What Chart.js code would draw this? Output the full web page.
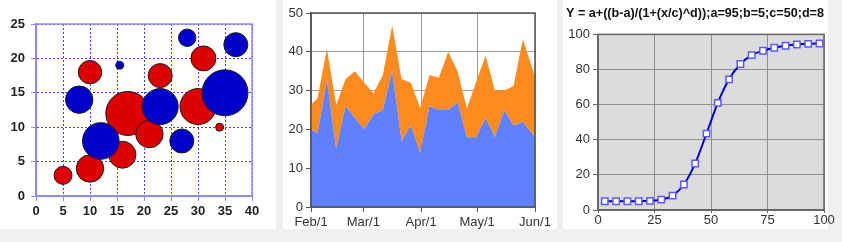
<!DOCTYPE html>
<html>
<head>
<meta charset="utf-8">
<script src="https://cdn.jsdelivr.net/npm/chart.js@4.4.1/dist/chart.umd.min.js"></script>
<style>
  html, body { margin: 0; padding: 0; background: #f0f0f0; }
  body { width: 842px; height: 242px; position: relative; overflow: hidden; }
  .panel { position: absolute; top: 0; height: 229px; background: #fff; }
  canvas { position: absolute; top: 0; }
</style>
</head>
<body>
<div class="panel" style="left:0;width:276px"></div>
<div class="panel" style="left:283px;width:274px"></div>
<div class="panel" style="left:563px;width:265px"></div>
<canvas id="bubble" width="276" height="229" style="left:0"></canvas>
<canvas id="area" width="274" height="229" style="left:283px"></canvas>
<canvas id="curve" width="279" height="229" style="left:563px"></canvas>
<script>
// --- bubble chart (x, y, bubble radius) ---
const redX = [5, 10, 10, 16, 17, 21, 23, 30, 31, 34];
const redY = [3, 4, 18, 6, 12, 9, 17.5, 13, 20, 10];
const redSize = [9, 13.7, 11.7, 13.5, 22, 13.7, 12, 18, 12.5, 4];
const blueX = [8, 12, 15.5, 23, 27, 28, 35, 37];
const blueY = [14, 8, 19, 13, 8, 23, 15, 22];
const blueSize = [13.7, 18.3, 4, 18, 12, 8.7, 23, 12];

// --- stacked area chart (days from Feb/1) ---
const areaDays = [0, 3.5, 8.5, 13.5, 18.5, 23.5, 28.5, 33.5, 38.5, 43.5, 48.5, 53.5, 58.5,
                  63.5, 68.5, 73.5, 78.5, 83.5, 88.5, 93.5, 98.5, 103.5, 108.5, 113.5, 120];
const areaBlue = [20, 19, 32.7, 15, 26, 23, 20, 24, 25, 35, 17, 21, 14,
                  26, 25, 25, 27, 18, 18, 23, 18, 25, 21, 22, 18];
const areaOrange = [6.3, 9, 8.1, 11.3, 7, 12, 12, 5.3, 9, 11.8, 16, 11, 11.5,
                    8, 8.3, 15, 8, 7.4, 14.3, 16, 12, 5, 10.2, 21.3, 15.6];
const areaTickDays = [0, 28, 59, 89, 120];
const areaTickLabels = ['Feb/1', 'Mar/1', 'Apr/1', 'May/1', 'Jun/1'];

// --- sigmoid curve ---
const curveTitle = 'Y = a+((b-a)/(1+(x/c)^d));a=95;b=5;c=50;d=8';
const curveX = [3, 8, 13, 18, 23, 28, 33, 38, 43, 48, 53, 58, 63, 68, 73, 78, 83, 88, 93, 98];
const curveY = [5, 5, 5, 5, 5.2, 5.9, 8.2, 14.5, 26.5, 43.5, 61, 74.4, 83.1, 88.2, 90.7, 92.4, 93.5, 94.2, 94.6, 94.8];

// plot background + frame around the chart area
const framePlugin = {
  id: 'frame',
  defaults: {},
  beforeDraw(chart, args, opts) {
    if (!opts.fill) return;
    const a = chart.chartArea;
    const ctx = chart.ctx;
    ctx.save();
    ctx.fillStyle = opts.fill;
    ctx.fillRect(a.left, a.top, a.right - a.left, a.bottom - a.top);
    ctx.restore();
  },
  afterDraw(chart, args, opts) {
    if (!opts.color) return;
    const a = chart.chartArea;
    const ctx = chart.ctx;
    ctx.save();
    ctx.strokeStyle = opts.color;
    ctx.lineWidth = opts.width || 1;
    ctx.strokeRect(a.left, a.top, a.right - a.left, a.bottom - a.top);
    ctx.restore();
  }
};
Chart.register(framePlugin);

const toPoints = (xs, ys, rs) => xs.map((x, i) => rs ? {x: x, y: ys[i], r: rs[i]} : {x: x, y: ys[i]});
const noAnim = {animation: false, responsive: false, events: []};

// bubble
new Chart(document.getElementById('bubble'), {
  type: 'bubble',
  data: {
    datasets: [
      {data: toPoints(blueX, blueY, blueSize), backgroundColor: '#0000cc', borderColor: '#1a1a1a', borderWidth: 1},
      {data: toPoints(redX, redY, redSize), backgroundColor: '#dd0000', borderColor: '#1a1a1a', borderWidth: 1}
    ]
  },
  options: {
    ...noAnim,
    layout: {padding: {top: 15, right: 11, left: 0, bottom: 0}},
    plugins: {legend: {display: false}, tooltip: {enabled: false}, frame: {color: '#8c8cff', width: 1.5}},
    scales: {
      x: {
        type: 'linear', min: 0, max: 40,
        ticks: {stepSize: 5, padding: 3, color: '#222', font: {family: 'Liberation Sans, Arial', size: 13, weight: 'bold'}},
        grid: {color: '#4040ff', tickColor: '#8c8cff', tickLength: 5, tickBorderDash: []},
        border: {color: '#8c8cff', width: 2, dash: [2, 2]},
        afterFit: (s) => { s.height = 33; }
      },
      y: {
        type: 'linear', min: 0, max: 25,
        ticks: {stepSize: 5, padding: 6, color: '#222', font: {family: 'Liberation Sans, Arial', size: 13, weight: 'bold'}},
        grid: {color: '#4040ff', tickColor: '#8c8cff', tickLength: 5, tickBorderDash: []},
        border: {color: '#8c8cff', width: 2, dash: [2, 2]},
        afterFit: (s) => { s.width = 36; }
      }
    }
  }
});

// stacked area
new Chart(document.getElementById('area'), {
  type: 'line',
  data: {
    datasets: [
      {data: toPoints(areaDays, areaBlue), backgroundColor: '#5f80ff', borderWidth: 0, pointRadius: 0, fill: 'origin'},
      {data: toPoints(areaDays, areaOrange), backgroundColor: '#ff8b1e', borderWidth: 0, pointRadius: 0, fill: '-1'}
    ]
  },
  options: {
    ...noAnim,
    layout: {padding: {top: 13, right: 22, left: 0, bottom: 0}},
    plugins: {legend: {display: false}, tooltip: {enabled: false}, frame: {color: '#555', width: 1.5}},
    scales: {
      x: {
        type: 'linear', min: 0, max: 120,
        afterBuildTicks: (s) => { s.ticks = areaTickDays.map(v => ({value: v})); },
        ticks: {
          padding: 3, color: '#333', maxRotation: 0, autoSkip: false,
          font: {family: 'Liberation Sans, Arial', size: 13},
          callback: (v) => areaTickLabels[areaTickDays.indexOf(v)]
        },
        grid: {color: '#9a9a9a', tickColor: '#555', tickLength: 5},
        border: {color: '#555', width: 1.5},
        afterFit: (s) => { s.height = 22; }
      },
      y: {
        stacked: true, min: 0, max: 50,
        ticks: {stepSize: 10, padding: 3, color: '#333', font: {family: 'Liberation Sans, Arial', size: 13}},
        grid: {color: '#9a9a9a', tickColor: '#555', tickLength: 5},
        border: {color: '#555', width: 1.5},
        afterFit: (s) => { s.width = 28; }
      }
    }
  }
});

// sigmoid
new Chart(document.getElementById('curve'), {
  type: 'line',
  data: {
    datasets: [{
      data: toPoints(curveX, curveY),
      borderColor: '#0000cc', borderWidth: 2, cubicInterpolationMode: 'monotone',
      pointStyle: 'rect', pointRadius: 4.5, pointBackgroundColor: '#fff',
      pointBorderColor: '#5a5aff', pointBorderWidth: 1.5
    }]
  },
  options: {
    ...noAnim,
    layout: {padding: {top: 0, right: 18, left: 3, bottom: 0}},
    plugins: {
      legend: {display: false}, tooltip: {enabled: false},
      title: {display: true, text: curveTitle, align: 'start', color: '#111',
              font: {family: 'Liberation Sans, Arial', size: 12.8, weight: 'bold'}, padding: {top: 6, bottom: 13}},
      frame: {color: '#666', width: 1.5, fill: '#dcdcdc'}
    },
    scales: {
      x: {
        type: 'linear', min: 0, max: 100,
        ticks: {stepSize: 25, padding: 0, color: '#333', font: {family: 'Liberation Sans, Arial', size: 13}},
        grid: {color: '#8e8e8e', tickColor: '#666', tickLength: 3},
        border: {color: '#666', width: 1.5},
        afterFit: (s) => { s.height = 19; }
      },
      y: {
        min: 0, max: 100,
        ticks: {stepSize: 20, padding: 3, color: '#333', font: {family: 'Liberation Sans, Arial', size: 13}},
        grid: {color: '#8e8e8e', tickColor: '#666', tickLength: 5},
        border: {color: '#666', width: 1.5},
        afterFit: (s) => { s.width = 32; }
      }
    }
  }
});
</script>
</body>
</html>
